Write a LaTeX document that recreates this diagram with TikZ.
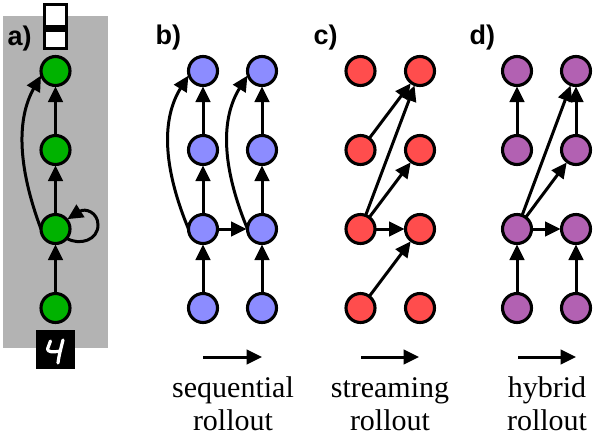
\documentclass[tikz,border=0pt]{standalone}
\usepackage{fontspec}
\setmainfont{Liberation Serif}
\newfontfamily\labfont{Liberation Sans}
\usetikzlibrary{arrows.meta}
\definecolor{panelgray}{RGB}{179,179,179}
\definecolor{ngreen}{RGB}{0,178,0}
\definecolor{nblue}{RGB}{140,140,255}
\definecolor{nred}{RGB}{255,77,77}
\definecolor{npurple}{RGB}{178,97,178}
\tikzset{
  x=1pt,y=-1pt,
  unit/.style={circle,draw=black,line width=3.1pt,minimum size=29pt,inner sep=0pt,outer sep=0pt},
  gunit/.style={unit,fill=ngreen},
  bunit/.style={unit,fill=nblue},
  runit/.style={unit,fill=nred},
  punit/.style={unit,fill=npurple},
  conn/.style={line width=3pt,-{Triangle[length=15.5pt,width=14.5pt]},shorten >=1pt},
  panel/.style={font=\labfont\bfseries\fontsize{27}{30}\selectfont,anchor=base west,inner sep=0pt},
  cap text/.style={font=\fontsize{30}{36}\selectfont,inner sep=0pt,anchor=base},
}
\begin{document}
\begin{tikzpicture}
\useasboundingbox (0,0) rectangle (596,437);
\fill[panelgray] (3,16) rectangle (108,348);
% output box
\node[draw=black,line width=3.1pt,fill=white,minimum width=22.5pt,minimum height=43.5pt,inner sep=0pt] (outbox) at (55.5,26.5) {};
\fill[black] (44,25) rectangle (67,32);
% input image
\node[fill=black,minimum size=39pt,inner sep=0pt] (digit) at (55.5,349.5) {};
\draw[white,line width=3.2pt,line cap=round,line join=round] (50.5,341) -- (47.5,349) .. controls (48,352) and (52,352.5) .. (60.5,351);
\draw[white,line width=3.2pt,line cap=round] (63,340) .. controls (61,348) and (59,355) .. (58,363);
% a)
\node[panel] (la) at (7.5,45) {a)};
\foreach \n/\y in {1/71,2/150,3/229,4/308}{
  \node[gunit] (a\n) at (55.5,\y) {};
  \node[bunit] (bl\n) at (203,\y) {};
  \node[bunit] (br\n) at (262,\y) {};
  \node[runit] (cl\n) at (360.5,\y) {};
  \node[runit] (cr\n) at (420,\y) {};
  \node[punit] (dl\n) at (517,\y) {};
  \node[punit] (dr\n) at (576,\y) {};
}
\draw[conn] (a4) -- (a3);
\draw[conn] (a3) -- (a2);
\draw[conn] (a2) -- (a1);
\draw[conn] (a3.180) .. controls (17,165) and (17,118) .. (a1.195);
\draw[conn] (a3.-40) .. controls (80,246) and (98,240) .. (98,225) .. controls (98,212) and (85,208) .. (a3.40);
% b)
\node[panel] (lb) at (155.5,44) {b)};
\foreach \c in {bl,br}{
  \draw[conn] (\c4) -- (\c3);
  \draw[conn] (\c3) -- (\c2);
  \draw[conn] (\c2) -- (\c1);
}
\draw[conn] (bl3.180) .. controls (162,165) and (162,118) .. (bl1.195);
\draw[conn] (br3.180) .. controls (221,165) and (221,118) .. (br1.195);
\draw[conn] (bl3) -- (br3);
\coordinate (bs) at (203,357);
\coordinate (be) at (262,357);
\draw[conn,shorten >=0pt] (bs) -- (be);
\node[cap text] (tb1) at (233,397) {sequential};
\node[cap text] (tb2) at (233,430) {rollout};
% c)
\node[panel] (lc) at (313.5,44) {c)};
\draw[conn] (cl2) -- (cr1);
\draw[conn] (cl3) -- (cr1);
\draw[conn] (cl3) -- (cr2);
\draw[conn] (cl3) -- (cr3);
\draw[conn] (cl4) -- (cr3);
\coordinate (cs) at (361,357);
\coordinate (ce) at (419,357);
\draw[conn,shorten >=0pt] (cs) -- (ce);
\node[cap text] (tc1) at (390,397) {streaming};
\node[cap text] (tc2) at (390,430) {rollout};
% d)
\node[panel] (ld) at (469.5,44) {d)};
\draw[conn] (dl4) -- (dl3);
\draw[conn] (dr4) -- (dr3);
\draw[conn] (dl2) -- (dl1);
\draw[conn] (dr2) -- (dr1);
\draw[conn] (dl3) -- (dr3);
\draw[conn] (dl3) -- (dr2);
\draw[conn] (dl3) -- (dr1);
\coordinate (ds) at (518,357);
\coordinate (de) at (576,357);
\draw[conn,shorten >=0pt] (ds) -- (de);
\node[cap text] (td1) at (547,397) {hybrid};
\node[cap text] (td2) at (547,430) {rollout};
\end{tikzpicture}
\end{document}
